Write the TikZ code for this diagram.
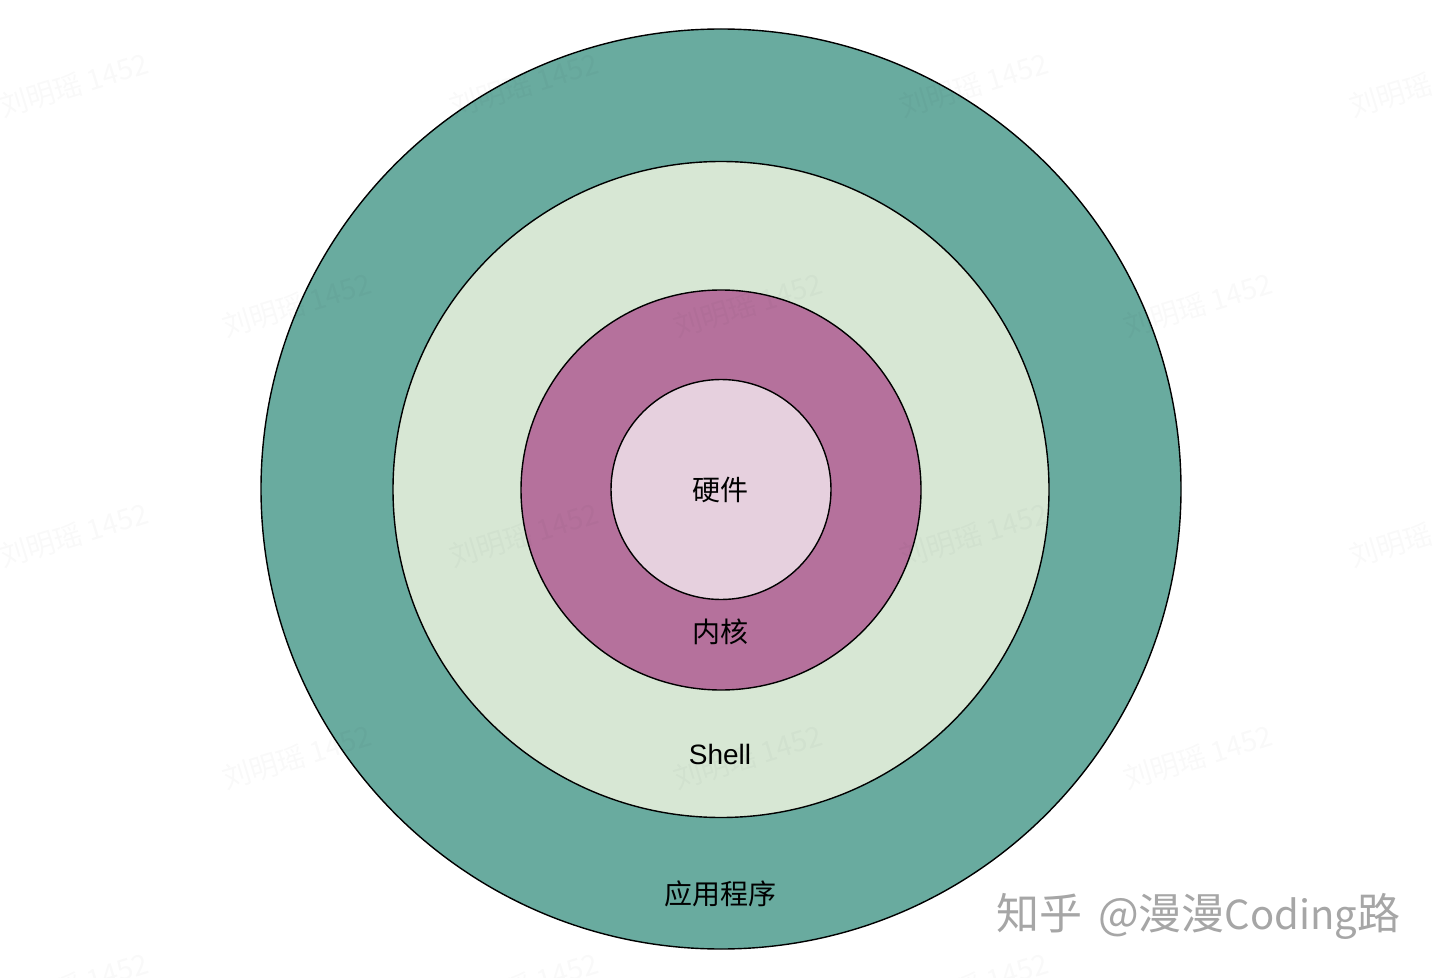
\documentclass[tikz,border=0pt]{standalone}
\usepackage{fontspec}
\setmainfont{Liberation Sans}
\newfontfamily\cjk{Noto Sans CJK SC}
\definecolor{appfill}{HTML}{69AB9F}
\definecolor{shellfill}{HTML}{D7E7D4}
\definecolor{kernelfill}{HTML}{B5719C}
\definecolor{hwfill}{HTML}{E6D0DE}
\tikzset{
  ring/.style={circle,draw=black,line width=0.7pt,inner sep=0pt,outer sep=0pt},
  lbl/.style={text=black,inner sep=0pt,font=\fontsize{14}{16}\selectfont\cjk},
  lbllat/.style={text=black,inner sep=0pt,font=\fontsize{14}{16}\selectfont},
  wm/.style={text=black,opacity=0.022,inner sep=0pt,rotate=17,anchor=center,font=\fontsize{14.2}{16}\selectfont\cjk},
  logo/.style={text=black!35,inner sep=0pt,anchor=west,font=\fontsize{21.5}{24}\selectfont\cjk}
}
\newcommand{\wmtext}{刘明瑶 1452}
\begin{document}
\begin{tikzpicture}[x=0.5pt,y=-0.5pt]
\path[use as bounding box,fill=white] (0,0) rectangle (1434,978);
\node[ring,fill=appfill,minimum size=460pt] (app) at (721,489) {};
\node[ring,fill=shellfill,minimum size=328pt] (shell) at (721,489.5) {};
\node[ring,fill=kernelfill,minimum size=200pt] (kernel) at (721,490) {};
\node[ring,fill=hwfill,minimum size=110pt] (hw) at (721,489.5) {};
\node[lbl] (hwlabel) at (720,490) {硬件};
\node[lbl] (kernellabel) at (720,632) {内核};
\node[lbllat] (shelllabel) at (720,754) {Shell};
\node[lbl] (applabel) at (720,894) {应用程序};
\begin{scope}
\clip (0,0) rectangle (1434,978);
\foreach \i/\x/\y in {a/74/85,b/524/85,c/974/85,d/1424/85,
  e/297/305,f/748/305,g/1198/305,
  h/74/535,i/524/535,j/974/535,k/1424/535,
  l/297/757,m/748/757,n/1198/757,
  o/74/985,p/524/985,q/974/985}
  \node[wm] (wm\i) at (\x,\y) {\wmtext};
\end{scope}
\node[logo] (logo) at (996,916) {知乎\hspace{3pt} @漫漫{\fontsize{20}{24}\selectfont Coding}路};
\end{tikzpicture}
\end{document}
